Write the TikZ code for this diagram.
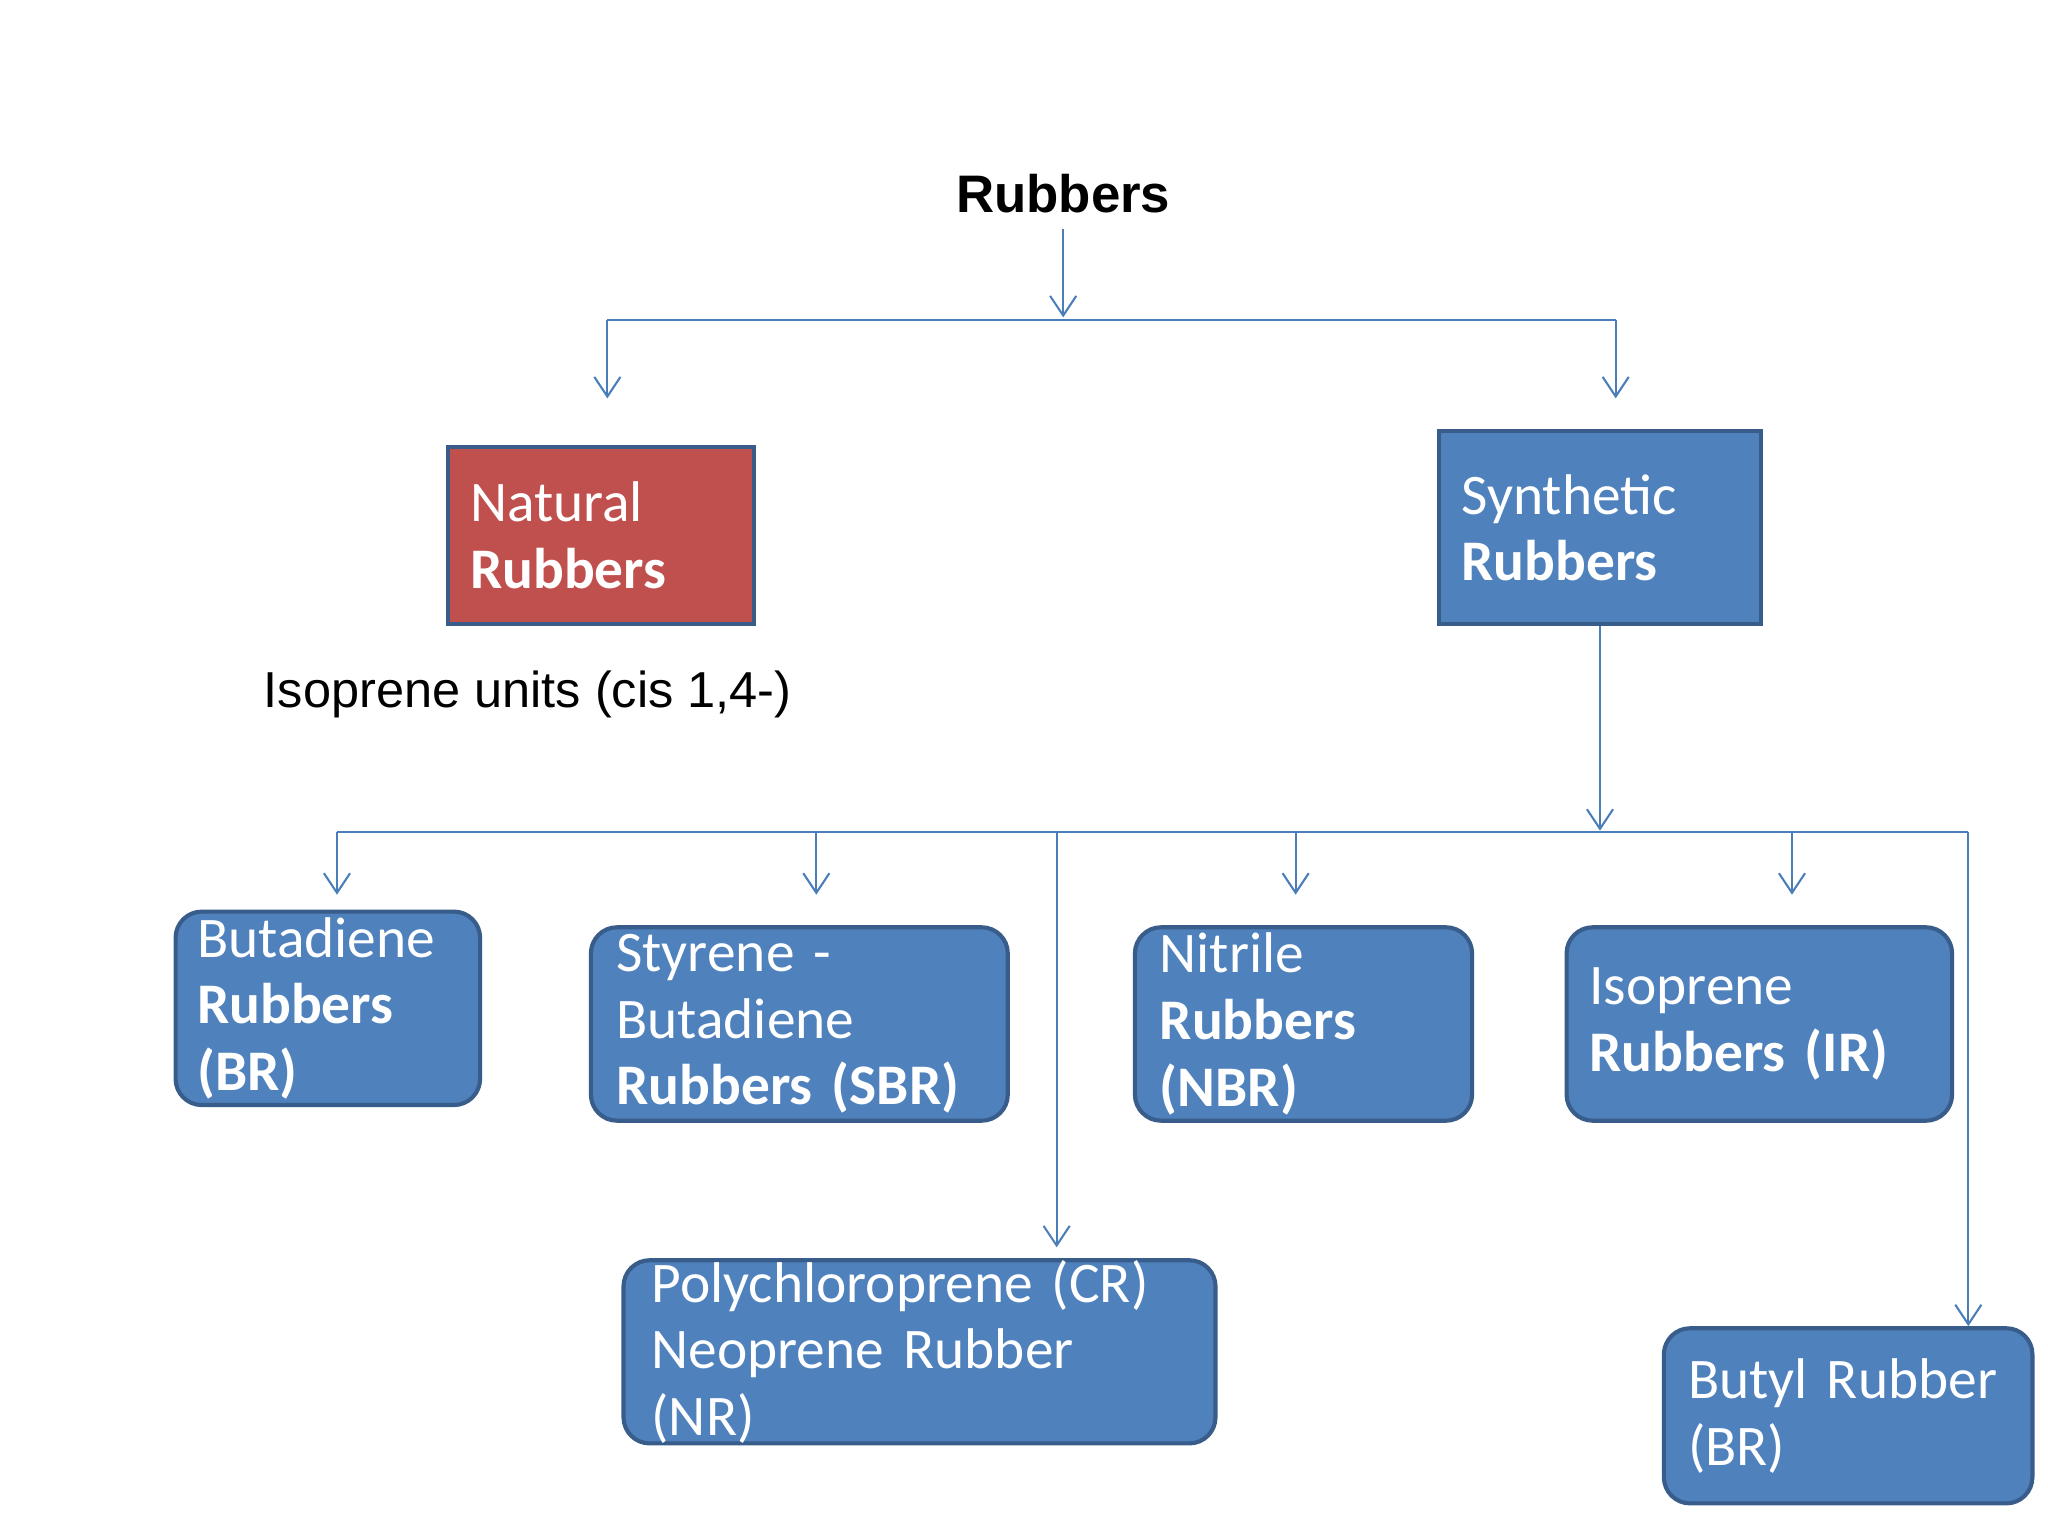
\documentclass[tikz,border=0pt]{standalone}
\usepackage{fontspec}
\setmainfont{Carlito}
\newfontfamily\arialf{Liberation Sans}
\usetikzlibrary{arrows.meta}
\definecolor{boxblue}{RGB}{79,129,189}
\definecolor{boxedge}{RGB}{56,93,138}
\definecolor{boxred}{RGB}{192,80,77}
\definecolor{linkblue}{RGB}{74,126,187}
\begin{document}
\begin{tikzpicture}[x=0.01cm, y=-0.01cm,
  box/.style={draw=boxedge, line width=0.9pt, fill=boxblue, text=white,
    rounded corners=0.2cm, align=left, inner sep=0pt, font=\fontsize{12.5}{14.5}\selectfont},
  link/.style={draw=linkblue, line width=0.45pt},
  arr/.style={link, -{Straight Barb[length=0.15cm, width=0.2cm]}}]
\useasboundingbox (0,0) rectangle (1568,1176);
% title and plain text
\node (top) at (814,148) {\arialf\bfseries\fontsize{11.5}{13}\selectfont Rubbers};
\node (iso) at (404,532) {\arialf\fontsize{11}{13}\selectfont Isoprene units (cis 1,4-)};
% boxes
\node (nat) [box, fill=boxred, rounded corners=0pt, minimum width=2.34cm, minimum height=1.36cm, text width=2.0cm] at (460,410) {Natural\\\textbf{Rubbers}};
\node (syn) [box, rounded corners=0pt, minimum width=2.46cm, minimum height=1.48cm, text width=2.12cm] at (1225,404) {Synthetic\\\textbf{Rubbers}};
\node (br) [box, minimum width=2.33cm, minimum height=1.48cm, text width=2.0cm] at (251,772) {Butadiene\\\textbf{Rubbers}\\\textbf{(BR)}};
\node (sbr) [box, minimum width=3.19cm, minimum height=1.48cm, text width=2.8cm] at (612,784) {Styrene -\\Butadiene\\\textbf{Rubbers (SBR)}};
\node (nbr) [box, minimum width=2.58cm, minimum height=1.48cm, text width=2.2cm] at (998,784) {Nitrile\\\textbf{Rubbers}\\\textbf{(NBR)}};
\node (ir) [box, minimum width=2.95cm, minimum height=1.48cm, text width=2.6cm] at (1347,784) {Isoprene\\\textbf{Rubbers (IR)}};
\node (cr) [box, minimum width=4.53cm, minimum height=1.36cm, text width=4.1cm] at (704,1035) {Polychloroprene (CR)\\Neoprene Rubber (NR)};
\node (butyl) [box, minimum width=2.82cm, minimum height=1.34cm, text width=2.45cm] at (1415,1084) {Butyl Rubber\\(BR)};
% connectors
\coordinate (j1) at (814,243);
\coordinate (j2) at (1225,636);
\draw[arr] (top.south) -- (j1);
\draw[link] (465,245) -- (1237,245);
\draw[arr] (465,245) -- (465,305);
\draw[arr] (1237,245) -- (1237,305);
\draw[arr] (syn.south) -- (j2);
\draw[link] (258,637) -- (1507,637);
\draw[arr] (258,637) -- (258,685);
\draw[arr] (625,637) -- (625,685);
\draw[arr] (809,637) -- (809,955);
\draw[arr] (992,637) -- (992,685);
\draw[arr] (1372,637) -- (1372,685);
\draw[arr] (1507,637) -- (butyl.north -| 1507,0);
\end{tikzpicture}
\end{document}
